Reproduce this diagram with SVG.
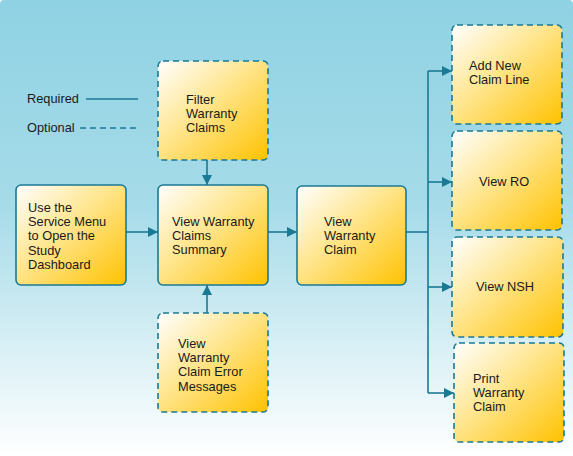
<svg xmlns="http://www.w3.org/2000/svg" width="573" height="456" viewBox="0 0 573 456">
<defs>
<linearGradient id="bg" x1="0" y1="0" x2="0" y2="1">
<stop offset="0" stop-color="#8fd2e3"/>
<stop offset="0.45" stop-color="#a6dbe9"/>
<stop offset="1" stop-color="#ffffff"/>
</linearGradient>
<linearGradient id="nf" x1="0" y1="0" x2="1" y2="1">
<stop offset="0" stop-color="#ffffff"/>
<stop offset="0.45" stop-color="#ffe58c"/>
<stop offset="1" stop-color="#ffc200"/>
</linearGradient>
<marker id="ah" viewBox="0 0 10 10" refX="10" refY="5" markerWidth="10" markerHeight="10" markerUnits="userSpaceOnUse" orient="auto">
<path d="M0,0 L10,5 L0,10 Z" fill="#1a7a94"/>
</marker>
<style>
.n{fill:url(#nf);stroke:#1a7a94;stroke-width:1.6}
.o{stroke-dasharray:6 4}
.t{font-family:"Liberation Sans",Arial,sans-serif;font-size:12.8px;fill:#1a1a1a}
.c{fill:none;stroke:#1a7a94;stroke-width:1.6}
</style>
</defs>
<rect x="0" y="0" width="573" height="456" rx="4" fill="url(#bg)"/>
<g id="legend">
<text class="t" x="27" y="103">Required</text>
<line class="c" x1="86" y1="99" x2="138" y2="99"/>
<text class="t" x="27" y="132">Optional</text>
<line class="c o" x1="80" y1="128" x2="136" y2="128"/>
</g>
<g id="connectors">
<path class="c" d="M126,232 H158" marker-end="url(#ah)"/>
<path class="c" d="M268,232 H297" marker-end="url(#ah)"/>
<path class="c" d="M207,160 V185" marker-end="url(#ah)"/>
<path class="c" d="M207,313 V285" marker-end="url(#ah)"/>
<path class="c" d="M406,232 H428"/>
<path class="c" d="M428,71 V393"/>
<path class="c" d="M428,71 H452" marker-end="url(#ah)"/>
<path class="c" d="M428,182 H452" marker-end="url(#ah)"/>
<path class="c" d="M428,287 H452" marker-end="url(#ah)"/>
<path class="c" d="M428,393 H454" marker-end="url(#ah)"/>
</g>
<g id="service-menu">
<rect class="n" x="16" y="185" width="110" height="100" rx="5"/>
<text class="t" x="28" y="212">Use the</text>
<text class="t" x="28" y="226">Service Menu</text>
<text class="t" x="28" y="240">to Open the</text>
<text class="t" x="28" y="255">Study</text>
<text class="t" x="28" y="269">Dashboard</text>
</g>
<g id="filter">
<rect class="n o" x="158" y="61" width="110" height="99" rx="5"/>
<text class="t" x="186" y="104">Filter</text>
<text class="t" x="186" y="118">Warranty</text>
<text class="t" x="186" y="132">Claims</text>
</g>
<g id="summary">
<rect class="n" x="158" y="185" width="110" height="100" rx="5"/>
<text class="t" x="172" y="226">View Warranty</text>
<text class="t" x="172" y="240">Claims</text>
<text class="t" x="172" y="254">Summary</text>
</g>
<g id="error-messages">
<rect class="n o" x="158" y="313" width="110" height="99" rx="5"/>
<text class="t" x="178" y="348">View</text>
<text class="t" x="178" y="362">Warranty</text>
<text class="t" x="178" y="376">Claim Error</text>
<text class="t" x="178" y="391">Messages</text>
</g>
<g id="claim">
<rect class="n" x="297" y="186" width="109" height="99" rx="5"/>
<text class="t" x="324" y="226">View</text>
<text class="t" x="324" y="240">Warranty</text>
<text class="t" x="324" y="254">Claim</text>
</g>
<g id="add-line">
<rect class="n o" x="452" y="25" width="110" height="99" rx="5"/>
<text class="t" x="469" y="70">Add New</text>
<text class="t" x="469" y="84">Claim Line</text>
</g>
<g id="view-ro">
<rect class="n o" x="452" y="131" width="110" height="99" rx="5"/>
<text class="t" x="479" y="186">View RO</text>
</g>
<g id="view-nsh">
<rect class="n o" x="452" y="237" width="111" height="100" rx="5"/>
<text class="t" x="476" y="291">View NSH</text>
</g>
<g id="print">
<rect class="n o" x="454" y="343" width="110" height="99" rx="5"/>
<text class="t" x="473" y="383">Print</text>
<text class="t" x="473" y="397">Warranty</text>
<text class="t" x="473" y="411">Claim</text>
</g>
</svg>
